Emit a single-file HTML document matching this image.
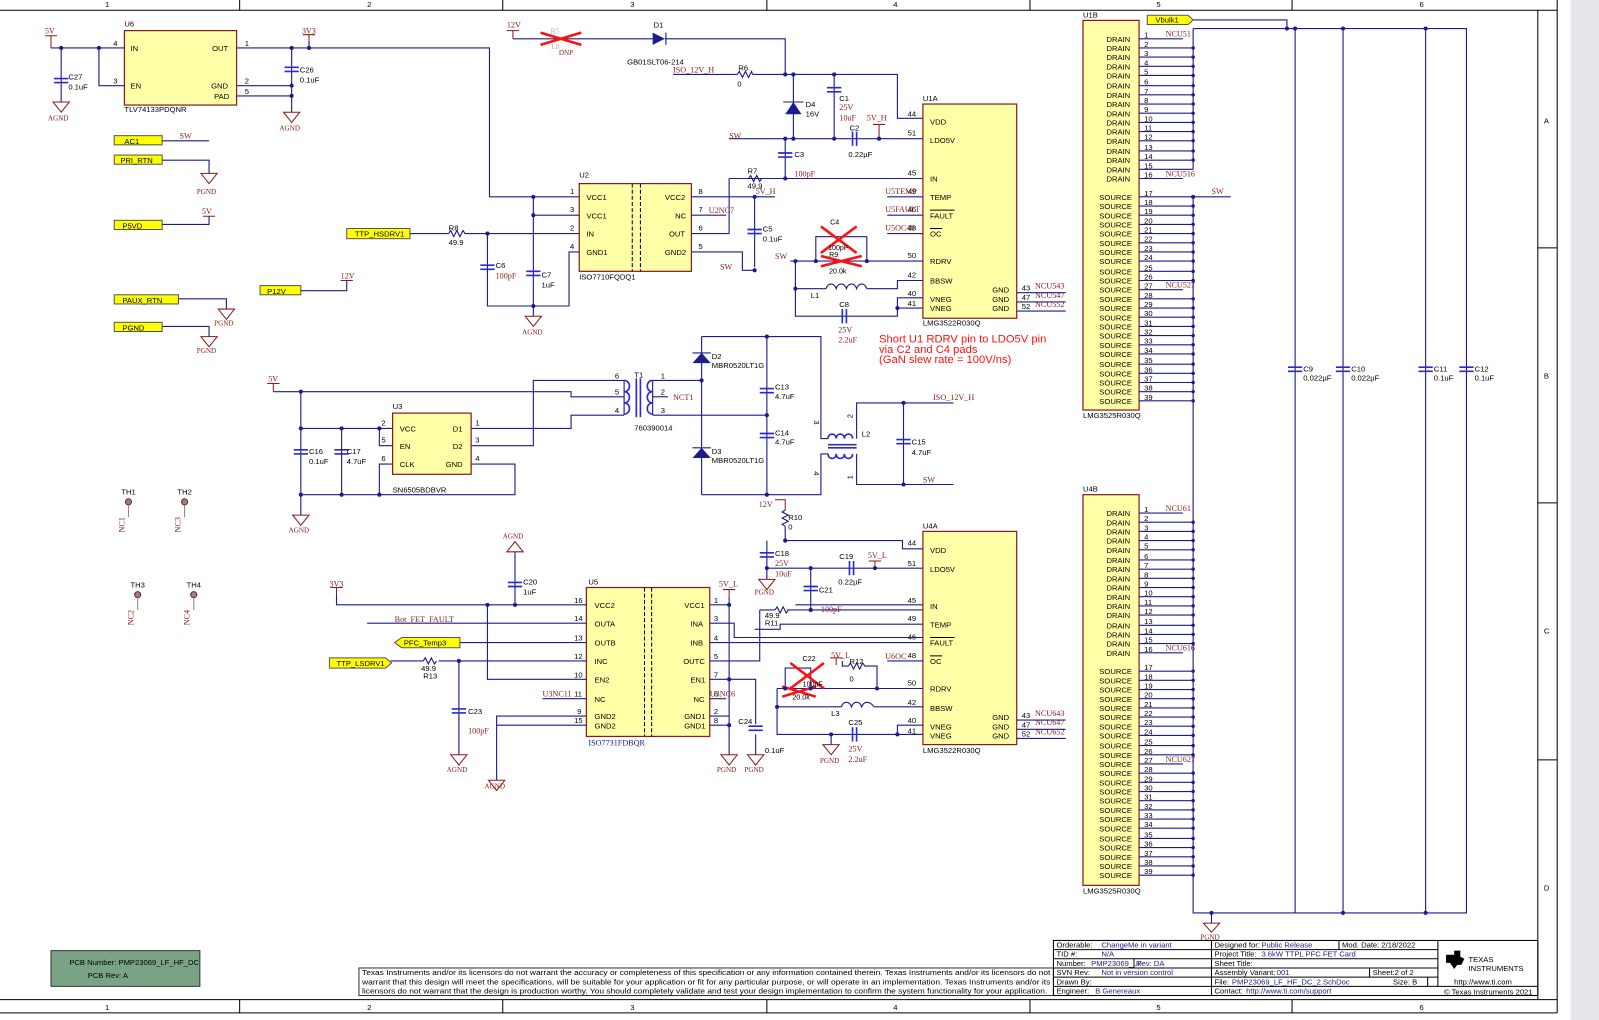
<!DOCTYPE html>
<html><head><meta charset="utf-8"><style>
html,body{margin:0;padding:0;background:#fff;}
svg{display:block;}
.w{stroke:#1c1c8c;stroke-width:1.1;fill:none}
.k{stroke:#000;stroke-width:1;fill:none}
.c{stroke:#2a2ad0;stroke-width:1.6;fill:none}
.g{stroke:#8b1a1a;stroke-width:1;fill:none}
.bx{fill:#ffffa8;stroke:#8b1a1a;stroke-width:1.2}
.yl{fill:#ffff00;stroke:#555;stroke-width:1}
text{font-family:"Liberation Sans",sans-serif;font-size:7.5px;fill:#000}
.n{font-family:"Liberation Serif",serif;fill:#8b1a1a;font-size:8px}
.s{font-size:7px}
.b{fill:#1c1c8c}
.r{fill:#ff1010;font-size:11px}
.x{stroke:#ff1010;stroke-width:2.5}
.tb{font-size:7.5px}
.tv{font-size:7.5px;fill:#20208c}
</style></head><body>
<svg width="1599" height="1020" viewBox="0 0 1568 1000" preserveAspectRatio="none" xmlns="http://www.w3.org/2000/svg">
<rect x="1540" y="0" width="28" height="1000" fill="#e6e7eb"/>
<rect x="1527" y="0" width="13" height="1000" fill="#fff"/>
<!-- border -->
<g class="k">
<line x1="0" y1="10" x2="1527" y2="10"/><line x1="0" y1="980" x2="1527" y2="980"/><line x1="0" y1="993" x2="1527" y2="993"/>
<line x1="1508" y1="10" x2="1508" y2="980"/><line x1="1527" y1="0" x2="1527" y2="993"/>
<line x1="235" y1="0" x2="235" y2="10"/><line x1="493" y1="0" x2="493" y2="10"/><line x1="752" y1="0" x2="752" y2="10"/><line x1="1010" y1="0" x2="1010" y2="10"/><line x1="1267" y1="0" x2="1267" y2="10"/>
<line x1="235" y1="980" x2="235" y2="993"/><line x1="493" y1="980" x2="493" y2="993"/><line x1="752" y1="980" x2="752" y2="993"/><line x1="1010" y1="980" x2="1010" y2="993"/><line x1="1267" y1="980" x2="1267" y2="993"/>
<line x1="1508" y1="243" x2="1527" y2="243"/><line x1="1508" y1="493" x2="1527" y2="493"/><line x1="1508" y1="745" x2="1527" y2="745"/>
</g>
<g class="s"><text x="103" y="7">1</text><text x="360" y="7">2</text><text x="618" y="7">3</text><text x="876" y="7">4</text><text x="1134" y="7">5</text><text x="1392" y="7">6</text>
<text x="103" y="990">1</text><text x="360" y="990">2</text><text x="618" y="990">3</text><text x="876" y="990">4</text><text x="1134" y="990">5</text><text x="1392" y="990">6</text>
<text x="1514" y="121">A</text><text x="1514" y="371">B</text><text x="1514" y="621">C</text><text x="1514" y="873">D</text></g>

<!-- U6 -->
<rect class="bx" x="122" y="30" width="110" height="73"/>
<text x="122" y="26">U6</text><text x="128" y="50">IN</text><text x="128" y="87">EN</text><text x="208" y="50">OUT</text><text x="207" y="87">GND</text><text x="210" y="97">PAD</text>
<text x="122" y="110">TLV74133PDQNR</text>
<text x="111" y="45">4</text><text x="111" y="82">3</text><text x="240" y="45">1</text><text x="240" y="82">2</text><text x="240" y="92">5</text>
<path class="w" d="M50,47H122 M97,47V84H122 M60,47V100 M232,47H480V193H568 M286,47V110 M232,84H286 M232,94H286 M303,40V47"/>
<path class="g" d="M50,35V47 M44,35H56 M303,40V34 M297,34H309"/>
<text class="n" x="44" y="33">5V</text><text class="n" x="296" y="33">3V3</text>
<path class="c" d="M53,77H67 M53,81H67 M279,66H293 M279,70H293"/>
<text x="67" y="78">C27</text><text x="67" y="88">0.1uF</text><text x="294" y="71">C26</text><text x="294" y="81">0.1uF</text>
<g class="b"><circle cx="60" cy="47" r="2"/><circle cx="97" cy="47" r="2"/><circle cx="286" cy="47" r="2"/><circle cx="303" cy="47" r="2"/><circle cx="286" cy="84" r="2"/><circle cx="286" cy="94" r="2"/></g>
<path class="g" d="M52,100H68L60,110Z M278,110H294L286,120Z"/>
<text class="n s" x="47" y="118">AGND</text><text class="n s" x="274" y="128">AGND</text>

<!-- left labels -->
<rect class="yl" x="112" y="133" width="47" height="9"/><text x="122" y="141">AC1</text>
<rect class="yl" x="112" y="152" width="47" height="9"/><text x="118" y="160">PRI_RTN</text>
<rect class="yl" x="112" y="216" width="47" height="9"/><text x="120" y="224">P5VD</text>
<rect class="yl" x="255" y="280" width="40" height="9"/><text x="262" y="288">P12V</text>
<rect class="yl" x="112" y="289" width="63" height="9"/><text x="120" y="297">PAUX_RTN</text>
<rect class="yl" x="112" y="316" width="47" height="9"/><text x="120" y="324">PGND</text>
<path class="w" d="M159,138H205 M159,157H205V170 M159,220H205V212 M295,285H340V275 M175,293H222V303 M159,320H205V330"/>
<path class="g" d="M197,170H213L205,180Z M214,303H230L222,313Z M197,330H213L205,340Z M199,212H211 M334,275H346"/>
<text class="n" x="176" y="136">SW</text><text class="n s" x="193" y="190">PGND</text><text class="n" x="198" y="210">5V</text><text class="n" x="334" y="273">12V</text><text class="n s" x="210" y="319">PGND</text><text class="n s" x="193" y="346">PGND</text>

<!-- R5 D1 top -->
<path class="g" d="M503,30V38 M497,30H509"/><text class="n" x="497" y="27">12V</text>
<path class="w" d="M503,38H640 M652,38H770V73 M660,73H723 M738,73H880V116H905"/>
<path class="x" d="M530,32L570,44 M530,44L570,32"/><text class="n s" x="540" y="33" style="fill:#aaa">R5</text><text class="n s" x="540" y="48" style="fill:#aaa">1.8</text><text class="n s" x="548" y="54">DNP</text>
<path d="M640,32V44L652,38Z" fill="#1c1c8c"/><path class="w" d="M653,32V44"/>
<text x="641" y="27">D1</text><text x="615" y="63">GB01SLT06-214</text>
<path class="w" d="M723,73l2,-3l3,6l3,-6l3,6l3,-6l1,3"/><text x="724" y="69">R6</text><text x="723" y="85">0</text>
<text class="n" x="660" y="71">ISO_12V_H</text>
<path class="w" d="M778,73V136 M818,73V136 M715,136H905 M770,136V175 M715,175H905 M715,175V229H678 M740,193V262 M678,193H760 M678,211H712 M678,247H728V265H740"/>
<path d="M770,112H786L778,100Z" fill="#1c1c8c"/><path class="w" d="M768,100H788"/>
<text x="790" y="105">D4</text><text x="790" y="114">16V</text>
<path class="c" d="M811,86H825 M811,90H825 M836,129V143 M840,129V143 M763,150H777 M763,154H777 M733,225H747 M733,229H747"/>
<text x="823" y="99">C1</text><text class="n" x="823" y="108">25V</text><text class="n" x="823" y="118">10uF</text>
<text x="833" y="128">C2</text><text x="832" y="154">0.22µF</text><text x="779" y="154">C3</text><text class="n" x="779" y="173">100pF</text>
<text class="n" x="850" y="118">5V_H</text><path class="g" d="M862,122V136 M856,122H868"/>
<text class="n" x="715" y="136">SW</text>
<path class="w" d="M734,175l2,-3l3,6l3,-6l3,6l2,-3"/><text x="733" y="170">R7</text><text x="733" y="185">49.9</text>
<text class="n" x="741" y="190">5V_H</text><text class="n" x="695" y="209">U2NC7</text><text class="n" x="706" y="264">SW</text>
<text x="748" y="227">C5</text><text x="748" y="237">0.1uF</text>
<g class="b"><circle cx="770" cy="73" r="2"/><circle cx="778" cy="73" r="2"/><circle cx="818" cy="73" r="2"/><circle cx="770" cy="136" r="2"/><circle cx="778" cy="136" r="2"/><circle cx="818" cy="136" r="2"/><circle cx="862" cy="136" r="2"/><circle cx="770" cy="175" r="2"/><circle cx="740" cy="193" r="2"/><circle cx="740" cy="265" r="2"/></g>

<!-- U2 -->
<rect class="bx" x="568" y="180" width="110" height="86"/>
<path class="k" d="M620,180V266 M628,180V266" stroke-dasharray="4,2"/>
<text x="568" y="174">U2</text><text x="568" y="274">ISO7710FQDQ1</text>
<text x="575" y="196">VCC1</text><text x="575" y="214">VCC1</text><text x="575" y="232">IN</text><text x="575" y="250">GND1</text>
<text x="652" y="196">VCC2</text><text x="662" y="214">NC</text><text x="656" y="232">OUT</text><text x="652" y="250">GND2</text>
<text x="559" y="190">1</text><text x="559" y="208">3</text><text x="559" y="226">2</text><text x="559" y="244">4</text>
<text x="685" y="190">8</text><text x="685" y="208">7</text><text x="685" y="226">6</text><text x="685" y="244">5</text>
<rect class="yl" x="340" y="224" width="62" height="10"/><text x="348" y="232">TTP_HSDRV1</text>
<path class="w" d="M402,229H440 M456,229H568 M523,193V300 M523,211H568 M478,229V300H558V247H568"/>
<path class="w" d="M440,229l2,-3l3,6l3,-6l3,6l3,-6l2,3"/><text x="440" y="226">R8</text><text x="440" y="240">49.9</text>
<path class="c" d="M471,260H485 M471,264H485 M516,266H530 M516,270H530"/>
<text x="486" y="263">C6</text><text class="n" x="486" y="273">100pF</text><text x="531" y="272">C7</text><text x="531" y="282">1uF</text>
<g class="b"><circle cx="478" cy="229" r="2"/><circle cx="523" cy="193" r="2"/><circle cx="523" cy="211" r="2"/><circle cx="523" cy="300" r="2"/></g>
<path class="w" d="M523,300V310"/><path class="g" d="M515,310H531L523,320Z"/><text class="n s" x="512" y="328">AGND</text>

<!-- U1A -->
<rect class="bx" x="905" y="102" width="92" height="210"/>
<text x="905" y="99">U1A</text><text x="905" y="319">LMG3522R030Q</text>
<text x="912" y="122">VDD</text><text x="912" y="140">LDO5V</text><text x="912" y="178">IN</text><text x="912" y="196">TEMP</text><text x="912" y="214">FAULT</text><text x="912" y="232">OC</text><text x="912" y="259">RDRV</text><text x="912" y="278">BBSW</text><text x="912" y="296">VNEG</text><text x="912" y="305">VNEG</text>
<text x="973" y="287">GND</text><text x="973" y="296">GND</text><text x="973" y="305">GND</text>
<path class="k" d="M912,206H936 M912,224H924"/>
<text x="890" y="114">44</text><text x="890" y="133">51</text><text x="890" y="172">45</text><text x="890" y="190">49</text><text x="890" y="208">46</text><text x="890" y="226">48</text><text x="890" y="253">50</text><text x="890" y="272">42</text><text x="890" y="290">40</text><text x="890" y="300">41</text>
<text x="1002" y="285">43</text><text x="1002" y="294">47</text><text x="1002" y="303">52</text>
<text class="n" x="1015" y="283">NCU543</text><text class="n" x="1015" y="292">NCU547</text><text class="n" x="1015" y="301">NCU552</text>
<path class="w" d="M997,287H1045 M997,296H1045 M997,305H1045 M870,193H905 M870,211H905 M870,229H905"/>
<text class="n" x="868" y="190">U5TEMP</text><text class="n" x="868" y="208">U5FAULT</text><text class="n" x="868" y="226">U5OC48</text>
<text class="n" x="760" y="254">SW</text>
<path class="w" d="M775,256H905 M780,256V310H880V292H905 M880,302H905 M780,283H810 M850,283H880V275H905 M800,256V232H850V256"/>
<path class="w" d="M810,283c2,-6 8,-6 10,0c2,-6 8,-6 10,0c2,-6 8,-6 10,0c2,-6 8,-6 10,0"/>
<path class="x" d="M805,222L840,248 M805,248L840,222 M805,251L845,261 M805,261L845,251"/>
<text class="s" x="814" y="220" fill="#999">C4</text><text class="s" x="812" y="245" fill="#999">100pF</text><text class="s" x="813" y="252" fill="#999">R9</text><text class="s" x="813" y="268" fill="#999">20.0k</text>
<text x="795" y="292">L1</text>
<path class="c" d="M826,303V317 M830,303V317"/><text x="823" y="301">C8</text><text class="n" x="822" y="326">25V</text><text class="n" x="822" y="336">2.2uF</text>
<g class="b"><circle cx="780" cy="256" r="2"/><circle cx="800" cy="256" r="2"/><circle cx="850" cy="256" r="2"/><circle cx="780" cy="283" r="2"/><circle cx="880" cy="302" r="2"/></g>
<text class="r" x="862" y="336">Short U1 RDRV pin to LDO5V pin</text>
<text class="r" x="862" y="346">via C2 and C4 pads</text>
<text class="r" x="862" y="356">(GaN slew rate = 100V/ns)</text>

<!-- U3 / T1 -->
<path class="g" d="M268,376V384 M262,376H274"/><text class="n" x="263" y="374">5V</text>
<path class="w" d="M268,384H560V389H612 M295,384V505 M295,420H385 M372,420V437H385 M372,485V455H385 M295,485H505V455H462 M462,420H560V407H612 M462,437H523V373H612"/>
<rect class="bx" x="385" y="405" width="77" height="60"/>
<text x="385" y="401">U3</text><text x="385" y="483">SN6505BDBVR</text>
<text x="392" y="423">VCC</text><text x="392" y="440">EN</text><text x="392" y="458">CLK</text><text x="444" y="423">D1</text><text x="444" y="440">D2</text><text x="437" y="458">GND</text>
<text x="374" y="417">2</text><text x="374" y="434">5</text><text x="374" y="452">6</text><text x="466" y="417">1</text><text x="466" y="434">3</text><text x="466" y="452">4</text>
<path class="c" d="M288,441H302 M288,445H302 M328,441H342 M328,445H342"/>
<text x="303" y="445">C16</text><text x="303" y="455">0.1uF</text><text x="340" y="445">C17</text><text x="340" y="455">4.7uF</text>
<g class="b"><circle cx="295" cy="384" r="2"/><circle cx="295" cy="420" r="2"/><circle cx="335" cy="420" r="2"/><circle cx="372" cy="420" r="2"/><circle cx="295" cy="485" r="2"/><circle cx="335" cy="485" r="2"/><circle cx="372" cy="485" r="2"/></g>
<path class="w" d="M335,420V485 M295,505"/><path class="g" d="M287,505H303L295,515Z"/><text class="n s" x="283" y="522">AGND</text>
<path class="w" d="M612,373V407 M640,373V407 M612,373 M640,373H688 M640,407H752"/>
<path class="c" d="M612,373c7,0 7,11 0,11c7,0 7,11 0,11c7,0 7,11 0,11 M640,373c-7,0 -7,11 0,11c-7,0 -7,11 0,11c-7,0 -7,11 0,11 M624,371V409 M628,371V409"/>
<text x="622" y="370">T1</text><text x="622" y="422">760390014</text>
<text x="603" y="371">6</text><text x="603" y="387">5</text><text x="603" y="405">4</text><text x="648" y="371">1</text><text x="648" y="387">2</text><text x="648" y="405">3</text>
<path class="w" d="M640,389H655"/><text class="n" x="660" y="392">NCT1</text>
<path class="w" d="M688,330V485 M688,330H805V405 M688,485H805V455 M752,330V485"/>
<path d="M679,356H697L688,346Z M679,449H697L688,439Z" fill="#1c1c8c"/><path class="w" d="M679,346H697 M679,439H697"/>
<text x="698" y="352">D2</text><text x="698" y="361">MBR0520LT1G</text><text x="698" y="445">D3</text><text x="698" y="454">MBR0520LT1G</text>
<path class="c" d="M745,381H759 M745,385H759 M745,425H759 M745,429H759"/>
<text x="760" y="382">C13</text><text x="760" y="391">4.7uF</text><text x="760" y="427">C14</text><text x="760" y="436">4.7uF</text>
<g class="b"><circle cx="688" cy="373" r="2"/><circle cx="752" cy="330" r="2"/><circle cx="752" cy="407" r="2"/><circle cx="752" cy="485" r="2"/></g>
<path class="w" d="M805,405V430H812 M805,455V445H812 M840,430V395H935 M840,445V475H935 M886,395V475"/>
<path class="c" d="M812,430c0,-6 8,-6 8,0c0,-6 8,-6 8,0c0,-6 8,-6 8,0 M812,445c0,6 8,6 8,0c0,6 8,6 8,0c0,6 8,6 8,0 M812,436H840 M812,439H840 M879,431H893 M879,435H893"/>
<text x="845" y="428">L2</text><text x="798" y="412" transform="rotate(90 798 412)">3</text><text x="798" y="462" transform="rotate(90 798 462)">4</text><text x="836" y="410" transform="rotate(-90 836 410)">2</text><text x="836" y="470" transform="rotate(-90 836 470)">1</text>
<text x="894" y="436">C15</text><text x="894" y="446">4.7uF</text>
<text class="n" x="915" y="392">ISO_12V_H</text><text class="n" x="905" y="473">SW</text>
<g class="b"><circle cx="886" cy="395" r="2"/><circle cx="886" cy="475" r="2"/></g>

<!-- TH -->
<g class="g"><circle cx="126" cy="492" r="3" fill="#888"/><circle cx="181" cy="492" r="3" fill="#888"/><circle cx="135" cy="583" r="3" fill="#888"/><circle cx="190" cy="583" r="3" fill="#888"/>
<path d="M126,495V507 M181,495V507 M135,586V598 M190,586V598" stroke="#888"/></g>
<text x="119" y="485">TH1</text><text x="174" y="485">TH2</text><text x="128" y="576">TH3</text><text x="183" y="576">TH4</text>
<text class="n" x="122" y="522" transform="rotate(-90 122 522)">NC1</text><text class="n" x="177" y="522" transform="rotate(-90 177 522)">NC3</text>
<text class="n" x="131" y="613" transform="rotate(-90 131 613)">NC2</text><text class="n" x="186" y="613" transform="rotate(-90 186 613)">NC4</text>

<!-- U4A region -->
<path class="g" d="M760,490H770V500"/><text class="n" x="744" y="497">12V</text>
<path class="w" d="M770,500l-3,2l6,3l-6,3l6,3l-6,3l3,2 M770,516V530H885V538H905 M752,530V557H905 M752,557V568 M795,557V598 M905,593H780 M760,598l2,-3l3,6l3,-6l3,6l2,-3 M745,598H760 M772,598H905"/>
<text x="773" y="510">R10</text><text x="773" y="519">0</text>
<path class="c" d="M745,542H759 M745,546H759 M833,550V564 M837,550V564 M788,575H802 M788,579H802"/>
<text x="760" y="545">C18</text><text class="n" x="760" y="555">25V</text><text class="n" x="760" y="565">10uF</text>
<text x="823" y="548">C19</text><text x="822" y="573">0.22µF</text><text x="803" y="581">C21</text><text class="n" x="805" y="600">100pF</text>
<text class="n" x="851" y="547">5V_L</text><path class="g" d="M858,550V557 M852,550H864"/>
<path class="g" d="M744,568H760L752,578Z"/><text class="n s" x="740" y="583">PGND</text>
<g class="b"><circle cx="770" cy="530" r="2"/><circle cx="752" cy="557" r="2"/><circle cx="795" cy="557" r="2"/><circle cx="858" cy="557" r="2"/><circle cx="795" cy="598" r="2"/></g>
<text x="750" y="606">49.9</text><text x="750" y="613">R11</text>
<rect class="bx" x="905" y="521" width="92" height="209"/>
<text x="905" y="518">U4A</text><text x="905" y="738">LMG3522R030Q</text>
<text x="912" y="542">VDD</text><text x="912" y="561">LDO5V</text><text x="912" y="597">IN</text><text x="912" y="615">TEMP</text><text x="912" y="633">FAULT</text><text x="912" y="651">OC</text><text x="912" y="678">RDRV</text><text x="912" y="697">BBSW</text><text x="912" y="715">VNEG</text><text x="912" y="724">VNEG</text>
<text x="973" y="706">GND</text><text x="973" y="715">GND</text><text x="973" y="724">GND</text>
<path class="k" d="M912,625H936 M912,643H924"/>
<text x="890" y="535">44</text><text x="890" y="555">51</text><text x="890" y="591">45</text><text x="890" y="609">49</text><text x="890" y="627">46</text><text x="890" y="645">48</text><text x="890" y="672">50</text><text x="890" y="691">42</text><text x="890" y="709">40</text><text x="890" y="719">41</text>
<text x="1002" y="704">43</text><text x="1002" y="713">47</text><text x="1002" y="722">52</text>
<text class="n" x="1015" y="702">NCU643</text><text class="n" x="1015" y="711">NCU647</text><text class="n" x="1015" y="720">NCU652</text>
<path class="w" d="M997,706H1045 M997,715H1045 M997,724H1045 M870,648H905"/>
<text class="n" x="868" y="646">U6OC</text>
<path class="w" d="M762,675H905 M770,675V655H795V675 M860,675V653H848 M832,653H826V648 M762,675V720H880V711H905 M880,720H905 M762,693H825 M857,693H880V693H905"/>
<path class="w" d="M825,693c2,-6 8,-6 10,0c2,-6 8,-6 10,0c2,-6 8,-6 12,0 M832,653l2,-3l3,6l3,-6l3,6l3,-6l2,3"/>
<path class="g" d="M820,645V652 M814,645H826"/><text class="n" x="815" y="645">5V_L</text><text x="833" y="651">R12</text><text x="833" y="668">0</text>
<path class="x" d="M775,650L808,675 M775,675L808,650 M767,673L800,683 M767,683L800,673"/>
<text class="s" x="787" y="648" fill="#999">C22</text><text class="s" x="787" y="673" fill="#999">100pF</text><text class="s" x="777" y="686" fill="#999">20.0k</text>
<text x="815" y="702">L3</text>
<path class="c" d="M836,713V727 M840,713V727"/><text x="832" y="711">C25</text><text class="n" x="832" y="737">25V</text><text class="n" x="832" y="747">2.2uF</text>
<path class="w" d="M815,720V730"/><path class="g" d="M807,730H823L815,740Z"/><text class="n s" x="804" y="748">PGND</text>
<g class="b"><circle cx="860" cy="675" r="2"/><circle cx="770" cy="675" r="2"/><circle cx="795" cy="675" r="2"/><circle cx="762" cy="693" r="2"/><circle cx="815" cy="720" r="2"/><circle cx="880" cy="720" r="2"/></g>

<!-- U5 -->
<rect class="bx" x="575" y="576" width="121" height="146"/>
<path class="k" d="M632,576V722 M639,576V722" stroke-dasharray="4,2"/>
<text x="577" y="573">U5</text><text class="n" x="577" y="731" style="fill:#20208c">ISO7731FDBQR</text>
<text x="583" y="596">VCC2</text><text x="583" y="614">OUTA</text><text x="583" y="633">OUTB</text><text x="583" y="651">INC</text><text x="583" y="669">EN2</text><text x="583" y="688">NC</text><text x="583" y="705">GND2</text><text x="583" y="714">GND2</text>
<text x="671" y="596">VCC1</text><text x="677" y="614">INA</text><text x="677" y="633">INB</text><text x="670" y="651">OUTC</text><text x="677" y="669">EN1</text><text x="680" y="688">NC</text><text x="671" y="705">GND1</text><text x="671" y="714">GND1</text>
<text x="563" y="591">16</text><text x="563" y="609">14</text><text x="563" y="628">13</text><text x="563" y="646">12</text><text x="563" y="664">10</text><text x="563" y="683">11</text><text x="566" y="700">9</text><text x="563" y="709">15</text>
<text x="700" y="591">1</text><text x="700" y="609">3</text><text x="700" y="628">4</text><text x="700" y="646">5</text><text x="700" y="664">7</text><text x="700" y="683">6</text><text x="700" y="700">2</text><text x="700" y="709">8</text>
<path class="g" d="M330,576V583 M324,576H336"/><text class="n" x="323" y="575">3V3</text>
<path class="w" d="M330,583V593H575 M505,541V593 M360,611H575 M451,630H575 M383,648H415 M430,648H575 M450,648V740 M478,593V666H575 M532,685H575 M487,765V702H575 M487,711H575"/>
<path class="g" d="M497,541H513L505,531Z"/><text class="n s" x="493" y="528">AGND</text>
<path class="c" d="M498,571H512 M498,575H512 M443,695H457 M443,699H457"/>
<text x="513" y="573">C20</text><text x="513" y="583">1uF</text><text x="459" y="700">C23</text><text class="n" x="459" y="719">100pF</text>
<text class="n" x="387" y="610">Bot_FET_FAULT</text>
<path class="yl" d="M387,630L394,625H451V635H394Z"/><text x="396" y="633">PFC_Temp3</text>
<path class="yl" d="M323,645H378L384,650L378,655H323Z"/><text x="330" y="653">TTP_LSDRV1</text>
<path class="w" d="M415,648l2,-3l3,6l3,-6l3,6l2,-3"/><text x="413" y="658">49.9</text><text x="415" y="665">R13</text>
<text class="n" x="532" y="683">U3NC11</text><text class="n" x="696" y="683">U3NC6</text>
<g class="b"><circle cx="478" cy="593" r="2"/><circle cx="505" cy="593" r="2"/><circle cx="450" cy="648" r="2"/></g>
<path class="g" d="M442,740H458L450,750Z M479,765H495L487,775Z"/><text class="n s" x="438" y="757">AGND</text><text class="n s" x="475" y="773">AGND</text>
<path class="g" d="M715,578V585 M709,578H721"/><text class="n" x="705" y="575">5V_L</text>
<path class="w" d="M715,585V740 M696,593H715 M696,666H741V710 M741,720V740 M696,702H715 M696,711H715 M696,685H712 M696,611H720V625H905 M696,630H905 M696,648H745V598 M740,617H765V612H905"/>
<path class="c" d="M734,712H748 M734,716H748"/><text x="724" y="710">C24</text><text x="750" y="738">0.1uF</text>
<path class="g" d="M707,740H723L715,750Z M733,740H749L741,750Z"/><text class="n s" x="703" y="757">PGND</text><text class="n s" x="730" y="757">PGND</text>
<g class="b"><circle cx="715" cy="593" r="2"/><circle cx="715" cy="666" r="2"/><circle cx="715" cy="711" r="2"/></g>

<!-- U1B / U4B -->
<rect class="bx" x="1062" y="20" width="55" height="382"/>
<rect class="bx" x="1062" y="485" width="55" height="383"/>
<text x="1062" y="17">U1B</text><text x="1062" y="410">LMG3525R030Q</text>
<text x="1062" y="482">U4B</text><text x="1062" y="876">LMG3525R030Q</text>
<g font-size="7">
<text x="1085" y="41">DRAIN</text><text x="1085" y="50">DRAIN</text><text x="1085" y="59">DRAIN</text><text x="1085" y="68">DRAIN</text><text x="1085" y="77">DRAIN</text><text x="1085" y="87">DRAIN</text><text x="1085" y="96">DRAIN</text><text x="1085" y="105">DRAIN</text><text x="1085" y="114">DRAIN</text><text x="1085" y="123">DRAIN</text><text x="1085" y="132">DRAIN</text><text x="1085" y="141">DRAIN</text><text x="1085" y="151">DRAIN</text><text x="1085" y="160">DRAIN</text><text x="1085" y="169">DRAIN</text><text x="1085" y="178">DRAIN</text>
<text x="1078" y="196">SOURCE</text><text x="1078" y="205">SOURCE</text><text x="1078" y="214">SOURCE</text><text x="1078" y="223">SOURCE</text><text x="1078" y="232">SOURCE</text><text x="1078" y="241">SOURCE</text><text x="1078" y="250">SOURCE</text><text x="1078" y="259">SOURCE</text><text x="1078" y="269">SOURCE</text><text x="1078" y="278">SOURCE</text><text x="1078" y="287">SOURCE</text><text x="1078" y="296">SOURCE</text><text x="1078" y="305">SOURCE</text><text x="1078" y="314">SOURCE</text><text x="1078" y="323">SOURCE</text><text x="1078" y="332">SOURCE</text><text x="1078" y="341">SOURCE</text><text x="1078" y="350">SOURCE</text><text x="1078" y="360">SOURCE</text><text x="1078" y="369">SOURCE</text><text x="1078" y="378">SOURCE</text><text x="1078" y="387">SOURCE</text><text x="1078" y="396">SOURCE</text>
<text x="1085" y="506">DRAIN</text><text x="1085" y="515">DRAIN</text><text x="1085" y="524">DRAIN</text><text x="1085" y="533">DRAIN</text><text x="1085" y="542">DRAIN</text><text x="1085" y="552">DRAIN</text><text x="1085" y="561">DRAIN</text><text x="1085" y="570">DRAIN</text><text x="1085" y="579">DRAIN</text><text x="1085" y="588">DRAIN</text><text x="1085" y="597">DRAIN</text><text x="1085" y="606">DRAIN</text><text x="1085" y="616">DRAIN</text><text x="1085" y="625">DRAIN</text><text x="1085" y="634">DRAIN</text><text x="1085" y="643">DRAIN</text>
<text x="1078" y="661">SOURCE</text><text x="1078" y="670">SOURCE</text><text x="1078" y="679">SOURCE</text><text x="1078" y="688">SOURCE</text><text x="1078" y="697">SOURCE</text><text x="1078" y="706">SOURCE</text><text x="1078" y="715">SOURCE</text><text x="1078" y="724">SOURCE</text><text x="1078" y="734">SOURCE</text><text x="1078" y="743">SOURCE</text><text x="1078" y="752">SOURCE</text><text x="1078" y="761">SOURCE</text><text x="1078" y="770">SOURCE</text><text x="1078" y="779">SOURCE</text><text x="1078" y="788">SOURCE</text><text x="1078" y="797">SOURCE</text><text x="1078" y="806">SOURCE</text><text x="1078" y="815">SOURCE</text><text x="1078" y="825">SOURCE</text><text x="1078" y="834">SOURCE</text><text x="1078" y="843">SOURCE</text><text x="1078" y="852">SOURCE</text><text x="1078" y="861">SOURCE</text>
<text x="1122" y="37">1</text><text x="1122" y="46">2</text><text x="1122" y="55">3</text><text x="1122" y="64">4</text><text x="1122" y="73">5</text><text x="1122" y="83">6</text><text x="1122" y="92">7</text><text x="1122" y="101">8</text><text x="1122" y="110">9</text><text x="1122" y="119">10</text><text x="1122" y="128">11</text><text x="1122" y="137">12</text><text x="1122" y="147">13</text><text x="1122" y="156">14</text><text x="1122" y="165">15</text><text x="1122" y="174">16</text>
<text x="1122" y="192">17</text><text x="1122" y="201">18</text><text x="1122" y="210">19</text><text x="1122" y="219">20</text><text x="1122" y="228">21</text><text x="1122" y="237">22</text><text x="1122" y="246">23</text><text x="1122" y="255">24</text><text x="1122" y="265">25</text><text x="1122" y="274">26</text><text x="1122" y="283">27</text><text x="1122" y="292">28</text><text x="1122" y="301">29</text><text x="1122" y="310">30</text><text x="1122" y="319">31</text><text x="1122" y="328">32</text><text x="1122" y="337">33</text><text x="1122" y="346">34</text><text x="1122" y="356">35</text><text x="1122" y="365">36</text><text x="1122" y="374">37</text><text x="1122" y="383">38</text><text x="1122" y="392">39</text>
<text x="1122" y="502">1</text><text x="1122" y="511">2</text><text x="1122" y="520">3</text><text x="1122" y="529">4</text><text x="1122" y="538">5</text><text x="1122" y="548">6</text><text x="1122" y="557">7</text><text x="1122" y="566">8</text><text x="1122" y="575">9</text><text x="1122" y="584">10</text><text x="1122" y="593">11</text><text x="1122" y="602">12</text><text x="1122" y="612">13</text><text x="1122" y="621">14</text><text x="1122" y="630">15</text><text x="1122" y="639">16</text>
<text x="1122" y="657">17</text><text x="1122" y="666">18</text><text x="1122" y="675">19</text><text x="1122" y="684">20</text><text x="1122" y="693">21</text><text x="1122" y="702">22</text><text x="1122" y="711">23</text><text x="1122" y="720">24</text><text x="1122" y="730">25</text><text x="1122" y="739">26</text><text x="1122" y="748">27</text><text x="1122" y="757">28</text><text x="1122" y="766">29</text><text x="1122" y="775">30</text><text x="1122" y="784">31</text><text x="1122" y="793">32</text><text x="1122" y="802">33</text><text x="1122" y="811">34</text><text x="1122" y="821">35</text><text x="1122" y="830">36</text><text x="1122" y="839">37</text><text x="1122" y="848">38</text><text x="1122" y="857">39</text>
</g>
<text class="n" x="1143" y="36">NCU51</text><text class="n" x="1143" y="173">NCU516</text><text class="n" x="1143" y="282">NCU527</text><text class="n" x="1188" y="190">SW</text>
<text class="n" x="1143" y="501">NCU61</text><text class="n" x="1143" y="638">NCU616</text><text class="n" x="1143" y="747">NCU627</text>
<path class="w" d="M1117,38H1160 M1117,175H1160 M1117,284H1160 M1117,503H1160 M1117,640H1160 M1117,749H1160 M1170,193H1207"/>
<path class="w" d="M1117,47H1170M1117,56H1170M1117,65H1170M1117,74H1170M1117,84H1170M1117,93H1170M1117,102H1170M1117,111H1170M1117,120H1170M1117,129H1170M1117,138H1170M1117,148H1170M1117,157H1170M1117,166H1170
M1117,193H1170M1117,202H1170M1117,211H1170M1117,220H1170M1117,229H1170M1117,238H1170M1117,247H1170M1117,256H1170M1117,266H1170M1117,275H1170M1117,293H1170M1117,302H1170M1117,311H1170M1117,320H1170M1117,329H1170M1117,338H1170M1117,347H1170M1117,357H1170M1117,366H1170M1117,375H1170M1117,384H1170M1117,393H1170
M1117,512H1170M1117,521H1170M1117,530H1170M1117,539H1170M1117,549H1170M1117,558H1170M1117,567H1170M1117,576H1170M1117,585H1170M1117,594H1170M1117,603H1170M1117,613H1170M1117,622H1170M1117,631H1170
M1117,658H1170M1117,667H1170M1117,676H1170M1117,685H1170M1117,694H1170M1117,703H1170M1117,712H1170M1117,721H1170M1117,731H1170M1117,740H1170M1117,758H1170M1117,767H1170M1117,776H1170M1117,785H1170M1117,794H1170M1117,803H1170M1117,812H1170M1117,822H1170M1117,831H1170M1117,840H1170M1117,849H1170M1117,858H1170
M1170,28V166 M1170,193V895H1438V28H1170 M1270,28V895 M1317,28V895 M1398,28V895 M1188,895V905 M1170,512V640"/>
<path class="c" d="M1263,360H1277 M1263,364H1277 M1310,360H1324 M1310,364H1324 M1391,360H1405 M1391,364H1405 M1431,360H1445 M1431,364H1445"/>
<text x="1278" y="364">C9</text><text x="1278" y="373">0.022µF</text><text x="1325" y="364">C10</text><text x="1325" y="373">0.022µF</text><text x="1406" y="364">C11</text><text x="1406" y="373">0.1uF</text><text x="1446" y="364">C12</text><text x="1446" y="373">0.1uF</text>
<path class="yl" d="M1125,15H1165L1170,19.5L1165,24H1125Z"/><text x="1133" y="22">Vbulk1</text>
<path class="w" d="M1170,19.5H1262V28"/>
<g class="b"><circle cx="1262" cy="28" r="2"/><circle cx="1270" cy="28" r="2"/><circle cx="1317" cy="28" r="2"/><circle cx="1398" cy="28" r="2"/><circle cx="1317" cy="895" r="2"/><circle cx="1398" cy="895" r="2"/><circle cx="1188" cy="895" r="2"/><circle cx="1170" cy="193" r="2"/>
<circle cx="1170" cy="47" r="1.7"/><circle cx="1170" cy="56" r="1.7"/><circle cx="1170" cy="65" r="1.7"/><circle cx="1170" cy="74" r="1.7"/><circle cx="1170" cy="84" r="1.7"/><circle cx="1170" cy="93" r="1.7"/><circle cx="1170" cy="102" r="1.7"/><circle cx="1170" cy="111" r="1.7"/><circle cx="1170" cy="120" r="1.7"/><circle cx="1170" cy="129" r="1.7"/><circle cx="1170" cy="138" r="1.7"/><circle cx="1170" cy="148" r="1.7"/><circle cx="1170" cy="157" r="1.7"/>
<circle cx="1170" cy="202" r="1.7"/><circle cx="1170" cy="211" r="1.7"/><circle cx="1170" cy="220" r="1.7"/><circle cx="1170" cy="229" r="1.7"/><circle cx="1170" cy="238" r="1.7"/><circle cx="1170" cy="247" r="1.7"/><circle cx="1170" cy="256" r="1.7"/><circle cx="1170" cy="266" r="1.7"/><circle cx="1170" cy="275" r="1.7"/><circle cx="1170" cy="293" r="1.7"/><circle cx="1170" cy="302" r="1.7"/><circle cx="1170" cy="311" r="1.7"/><circle cx="1170" cy="320" r="1.7"/><circle cx="1170" cy="329" r="1.7"/><circle cx="1170" cy="338" r="1.7"/><circle cx="1170" cy="347" r="1.7"/><circle cx="1170" cy="357" r="1.7"/><circle cx="1170" cy="366" r="1.7"/><circle cx="1170" cy="375" r="1.7"/><circle cx="1170" cy="384" r="1.7"/><circle cx="1170" cy="393" r="1.7"/>
<circle cx="1170" cy="512" r="1.7"/><circle cx="1170" cy="521" r="1.7"/><circle cx="1170" cy="530" r="1.7"/><circle cx="1170" cy="539" r="1.7"/><circle cx="1170" cy="549" r="1.7"/><circle cx="1170" cy="558" r="1.7"/><circle cx="1170" cy="567" r="1.7"/><circle cx="1170" cy="576" r="1.7"/><circle cx="1170" cy="585" r="1.7"/><circle cx="1170" cy="594" r="1.7"/><circle cx="1170" cy="603" r="1.7"/><circle cx="1170" cy="613" r="1.7"/><circle cx="1170" cy="622" r="1.7"/><circle cx="1170" cy="631" r="1.7"/>
<circle cx="1170" cy="658" r="1.7"/><circle cx="1170" cy="667" r="1.7"/><circle cx="1170" cy="676" r="1.7"/><circle cx="1170" cy="685" r="1.7"/><circle cx="1170" cy="694" r="1.7"/><circle cx="1170" cy="703" r="1.7"/><circle cx="1170" cy="712" r="1.7"/><circle cx="1170" cy="721" r="1.7"/><circle cx="1170" cy="731" r="1.7"/><circle cx="1170" cy="740" r="1.7"/><circle cx="1170" cy="758" r="1.7"/><circle cx="1170" cy="767" r="1.7"/><circle cx="1170" cy="776" r="1.7"/><circle cx="1170" cy="785" r="1.7"/><circle cx="1170" cy="794" r="1.7"/><circle cx="1170" cy="803" r="1.7"/><circle cx="1170" cy="812" r="1.7"/><circle cx="1170" cy="822" r="1.7"/><circle cx="1170" cy="831" r="1.7"/><circle cx="1170" cy="840" r="1.7"/><circle cx="1170" cy="849" r="1.7"/><circle cx="1170" cy="858" r="1.7"/></g>
<path class="g" d="M1180,905H1196L1188,914Z"/><text class="n s" x="1177" y="921">PGND</text>

<!-- bottom -->
<rect x="50" y="932" width="146" height="35" fill="#7aa386" stroke="#333"/>
<text x="68" y="946" font-size="8.5">PCB Number: PMP23069_LF_HF_DC</text><text x="86" y="959" font-size="8.5">PCB Rev: A</text>
<rect x="352" y="949" width="681" height="27" fill="none" stroke="#333"/>
<g font-size="6.6"><text x="355" y="956" textLength="675" lengthAdjust="spacingAndGlyphs">Texas Instruments and/or its licensors do not warrant the accuracy or completeness of this specification or any information contained therein. Texas Instruments and/or its licensors do not</text>
<text x="355" y="965" textLength="675" lengthAdjust="spacingAndGlyphs">warrant that this design will meet the specifications, will be suitable for your application or fit for any particular purpose, or will operate in an implementation. Texas Instruments and/or its</text>
<text x="355" y="974" textLength="672" lengthAdjust="spacingAndGlyphs">licensors do not warrant that the design is production worthy. You should completely validate and test your design implementation to confirm the system functionality for your application.</text></g>
<g class="k"><rect x="1033" y="922" width="475" height="54"/>
<path d="M1033,931H1410 M1033,940H1410 M1033,949H1410 M1033,958H1410 M1033,967H1508 M1188,922V976 M1313,922V931 M1343,949V958 M1400,958V967 M1410,922V967 M1112,940V949"/></g>
<g class="tb"><text x="1036" y="929">Orderable:</text><text class="tv" x="1080" y="929">ChangeMe in variant</text>
<text x="1036" y="938">TID #:</text><text class="tv" x="1080" y="938">N/A</text>
<text x="1036" y="947">Number:</text><text class="tv" x="1070" y="947">PMP23069_LF</text><text class="tv" x="1114" y="947">Rev: DA</text>
<text x="1036" y="956">SVN Rev:</text><text class="tv" x="1080" y="956">Not in version control</text>
<text x="1036" y="965">Drawn By:</text><text x="1036" y="974">Engineer:</text><text class="tv" x="1074" y="974">B Genereaux</text>
<text x="1191" y="929">Designed for:</text><text class="tv" x="1237" y="929">Public Release</text><text x="1316" y="929">Mod. Date: 2/18/2022</text>
<text x="1191" y="938">Project Title:</text><text class="tv" x="1237" y="938">3.6kW TTPL PFC FET Card</text>
<text x="1191" y="947">Sheet Title:</text>
<text x="1191" y="956">Assembly Variant:</text><text class="tv" x="1252" y="956">001</text><text x="1346" y="956">Sheet:2  of  2</text>
<text x="1191" y="965">File:</text><text class="tv" x="1208" y="965">PMP23069_LF_HF_DC_2.SchDoc</text><text x="1366" y="965">Size: B</text>
<text x="1191" y="974">Contact:</text><text class="tv" x="1222" y="974">http://www.ti.com/support</text>
<text x="1426" y="965" fill="#20208c">http://www.ti.com</text><text x="1416" y="975" font-size="6">© Texas Instruments   2021</text>
<text x="1440" y="943" font-size="9" font-family="Liberation Serif">TEXAS</text><text x="1440" y="952" font-size="9" font-family="Liberation Serif">INSTRUMENTS</text></g>
<path d="M1418,936h8v-4h6v6l4,2-3,6h-4l-3,4-4-6h-4z" fill="#000"/>
</svg>
</body></html>
